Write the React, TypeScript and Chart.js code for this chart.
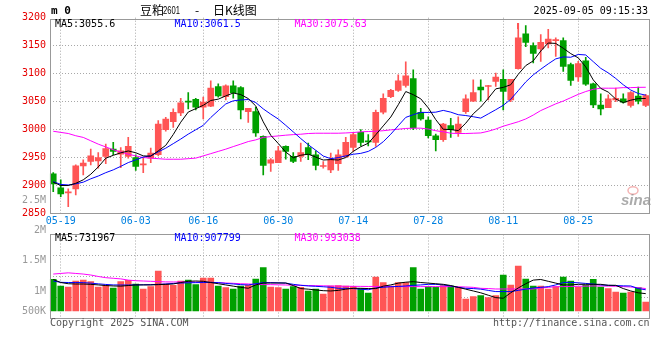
import React, { useEffect, useRef } from "react";
import { Chart, registerables } from "chart.js";

Chart.register(...registerables);

// ---------- data ----------
const dates = ["05-16","05-19","05-20","05-21","05-22","05-23","05-26","05-27","05-28","05-29","05-30","06-03","06-04","06-05","06-06","06-09","06-10","06-11","06-12","06-13","06-16","06-17","06-18","06-19","06-20","06-23","06-24","06-25","06-26","06-27","06-30","07-01","07-02","07-03","07-04","07-07","07-08","07-09","07-10","07-11","07-14","07-15","07-16","07-17","07-18","07-21","07-22","07-23","07-24","07-25","07-28","07-29","07-30","07-31","08-01","08-04","08-05","08-06","08-07","08-08","08-11","08-12","08-13","08-14","08-15","08-18","08-19","08-20","08-21","08-22","08-25","08-26","08-27","08-28","08-29","09-01","09-02","09-03","09-04","09-05"];

const shownDates = ["05-19","06-03","06-16","06-30","07-14","07-28","08-11","08-25"];

const opens = [2921,2896,2887,2894,2935,2943,2944,2952,2965,2956, 2952,2950,2937,2949,2955,3000,3014,3030,3050,3054, 3040,3042,3077,3059,3078,3075,3032,3032,2988,2940, 2941,2970,2952,2952,2968,2955,2934,2928,2939,2951, 2968,2995,2979,2977,3031,3059,3070,3079,3091,3031, 3017,2989,2982,3007,2995,3032,3051,3076,3077,3086, 3090,3053,3109,3171,3150,3144,3153,3159,3159,3116, 3094,3123,3082,3044,3039,3053,3055,3043,3060,3043];
const highs = [2923,2910,2894,2937,2946,2965,2959,2974,2977,2968, 2986,2955,2949,2967,3016,3022,3037,3056,3066,3056, 3058,3087,3082,3080,3087,3077,3038,3040,2989,2948, 2970,2971,2959,2976,2976,2962,2943,2958,2964,2986, 2995,3000,2991,3035,3064,3072,3098,3121,3107,3038, 3023,2992,3011,3020,3023,3062,3089,3089,3079,3101, 3107,3090,3190,3186,3155,3170,3179,3164,3164,3119, 3122,3129,3083,3064,3062,3074,3064,3068,3076,3063];
const lows = [2889,2880,2862,2883,2919,2937,2931,2939,2955,2932, 2949,2927,2923,2941,2953,2997,3004,3025,3037,3035, 3019,3041,3058,3053,3056,3019,3013,2988,2919,2925, 2941,2947,2941,2943,2946,2928,2931,2923,2927,2951, 2961,2971,2971,2970,3028,3057,3068,3076,3000,3017, 2985,2962,2979,2986,2988,3029,3050,3051,3053,3077, 3035,3050,3108,3148,3119,3122,3146,3131,3104,3079, 3086,3079,3039,3026,3039,3050,3047,3040,3046,3041];
const closes = [2903,2885,2888,2935,2940,2953,2950,2966,2961,2962, 2970,2934,2938,2958,3010,3019,3031,3048,3049,3040, 3049,3074,3060,3078,3066,3035,3038,2994,2936,2946, 2962,2961,2943,2959,2955,2936,2935,2947,2955,2977, 2991,2977,2978,3031,3056,3070,3087,3096,3003,3019, 2989,2982,3010,3000,3010,3055,3066,3071,3078,3094, 3068,3090,3164,3156,3136,3156,3162,3160,3113,3088, 3118,3081,3044,3037,3055,3056,3049,3066,3051,3061];

const ma5 = [2906,2900,2900,2904,2910.2,2920.2,2933.2,2948.8,2954,2958.4, 2961.8,2958.6,2953,2952.4,2962,2971.8,2991.2,3013.2,3031.4,3037.4, 3043.4,3052,3054.4,3060.2,3065.4,3062.6,3055.4,3042.2,3013.8,2989.8, 2975.2,2959.8,2949.6,2954.2,2956,2950.8,2945.6,2946.4,2945.6,2950, 2961,2969.4,2975.6,2990.8,3006.6,3022.4,3044.4,3068,3062.4,3055, 3038.8,3017.8,3000.6,3000,2998.2,3011.4,3028.2,3040.4,3056,3072.8, 3075.4,3080.2,3098.8,3114.4,3122.8,3140.4,3154.8,3154,3145.4,3135.8, 3128.2,3112,3088.8,3073.6,3067,3054.6,3048.2,3052.6,3055.4,3055.6];
const ma10 = [2907,2902,2901,2903,2906,2912,2917,2923,2928,2934.3, 2941,2945.9,2950.9,2953.2,2960.2,2966.8,2974.9,2983.1,2991.9,2999.7, 3007.6,3021.6,3033.8,3045.8,3051.4,3053,3053.7,3048.3,3037,3027.6, 3018.9,3007.6,2995.9,2984,2972.9,2963,2952.7,2948,2949.9,2953, 2955.9,2957.5,2961,2968.2,2978.3,2991.7,3006.9,3021.8,3026.6,3030.8, 3030.6,3031.1,3034.3,3031.2,3026.6,3025.1,3023,3020.5,3028,3035.5, 3043.4,3054.2,3069.6,3085.2,3097.8,3107.9,3117.5,3126.4,3129.9,3129.3, 3134.3,3133.4,3121.4,3109.5,3101.4,3091.4,3080.1,3070.7,3064.5,3061.5];
const ma30 = [2997,2995,2993,2989,2986,2980,2974,2969,2964,2960, 2956,2953,2950,2949,2948,2947,2947,2947,2948,2949, 2953,2957,2961,2965,2969.6,2974,2978.6,2981.6,2986,2987.5, 2988.7,2990,2991,2991.7,2993,2993.5,2993.5,2993.5,2993.5,2994, 2994.7,2996,2996.5,2997,2998,2999.5,3000.7,3002,3002.5,3002.5, 3001,2998,2996,2993.5,2993,2993,2993.5,2994,2997,3001, 3006,3010,3014,3019,3026,3034,3040,3046,3051,3057, 3063,3068,3072,3074,3074,3074,3075,3075,3075.5,3075.63];

// volumes in millions of lots
const volumesM = [1.193,1.083,1.066,1.165,1.182,1.154,1.066,1.088,1.050,1.154, 1.176,1.116,1.033,1.072,1.331,1.116,1.094,1.165,1.182,1.105, 1.215,1.215,1.083,1.055,1.033,1.083,1.099,1.198,1.386,1.066, 1.055,1.033,1.072,1.061,1.000,1.033,0.950,1.083,1.088,1.083, 1.077,1.039,0.967,1.231,1.138,1.083,1.138,1.138,1.386,1.033, 1.072,1.061,1.088,1.083,1.061,0.868,0.906,0.922,0.889,0.922, 1.264,1.099,1.413,1.198,1.083,1.083,1.033,1.072,1.231,1.165, 1.066,1.094,1.193,1.066,1.039,0.983,0.967,0.983,1.055,0.818];
const volMa5M = [1.19,1.14,1.12,1.115,1.115,1.11,1.10,1.09,1.083,1.08, 1.09,1.10,1.10,1.10,1.105,1.11,1.116,1.14,1.16,1.165, 1.16,1.14,1.12,1.10,1.08,1.06,1.045,1.10,1.132,1.132, 1.132,1.132,1.09,1.04,1.03,1.017,1.005,1.0,1.01,1.03, 1.044,1.044,1.04,1.04,1.08,1.10,1.13,1.145,1.154,1.14, 1.13,1.12,1.11,1.09,1.06,1.03,1.0,0.97,0.93,0.89, 0.88,0.97,1.05,1.12,1.18,1.19,1.16,1.13,1.10,1.10, 1.11,1.11,1.11,1.11,1.094,1.094,1.04,1.0,0.97,0.956];
const volMa10M = [1.165,1.143,1.14,1.14,1.138,1.13,1.118,1.108,1.10,1.099, 1.099,1.10,1.103,1.105,1.11,1.116,1.125,1.132,1.135,1.138, 1.14,1.143,1.138,1.125,1.116,1.105,1.099,1.12,1.138,1.138, 1.135,1.13,1.11,1.094,1.083,1.077,1.07,1.061,1.044,1.044, 1.04,1.03,1.02,1.05,1.061,1.07,1.075,1.083,1.094,1.10, 1.11,1.11,1.10,1.083,1.06,1.044,1.04,1.03,1.01,0.99, 0.99,0.99,1.01,1.03,1.05,1.06,1.072,1.10,1.14,1.143, 1.135,1.125,1.115,1.10,1.094,1.09,1.085,1.083,1.04,1.02];
const volMa30M = [1.28,1.29,1.30,1.29,1.28,1.264,1.24,1.22,1.21,1.20, 1.18,1.17,1.165,1.16,1.155,1.15,1.149,1.149,1.149,1.147, 1.145,1.14,1.138,1.132,1.127,1.12,1.116,1.11,1.105,1.105, 1.102,1.099,1.096,1.094,1.09,1.088,1.085,1.083,1.08,1.078, 1.077,1.076,1.075,1.075,1.075,1.074,1.073,1.072,1.072,1.072, 1.072,1.072,1.072,1.072,1.07,1.066,1.06,1.044,1.04,1.033, 1.033,1.033,1.033,1.033,1.033,1.05,1.06,1.07,1.072,1.075, 1.078,1.08,1.083,1.083,1.08,1.078,1.072,1.066,1.055,1.04];

const priceMin = 2850;
const priceMax = 3200;
const priceStep = 50;
const volAxisMin = 545000;
const volAxisMax = 1934000;
const volBase = 670000;
const volTickValues = [2000000, 1500000, 1000000, 500000];
const volTickLabels = ["2M", "1.5M", "1M", "500K"];

const maNames = ["MA5", "MA10", "MA30"];
const priceMaLabels = ["3055.6", "3061.5", "3075.63"];
const volMaLabels = ["731967", "907799", "993038"];
const titleName = "豆粕";
const titleCode = "2601";
const titleKind = "日K线图";
const headerMark = "m 0";
const timestamp = "2025-09-05 09:15:33";
const extraAxisLabel = "2.5M";
const copyrightText = "Copyright 2025 SINA.COM";
const urlText = "http://finance.sina.com.cn";

// ---------- styles ----------
const MONO = "'DejaVu Sans Mono', monospace";
const CJK = "'Noto Sans CJK SC', sans-serif";
const UP = "#FF5555";
const DOWN = "#00A000";
const GRID = "#A8A8A8";
const BORDER = "#999999";
const MA_COLORS = ["#000000", "#0000FF", "#FF00FF"];
const CLEAR = "rgba(0,0,0,0)";
const MA_X = [55, 174.5, 294.5];

export default function App() {
  const mainRef = useRef<HTMLCanvasElement>(null);
  const volRef = useRef<HTMLCanvasElement>(null);

  useEffect(() => {
    const colors = opens.map((o, i) => (closes[i] >= o ? UP : DOWN));
    const bodies = opens.map((o, i) => [o, closes[i]]);
    const wicks = lows.map((l, i) => [l, highs[i]]);
    const xGridColor = (c: any) => (shownDates.includes(dates[c.index]) ? GRID : CLEAR);

    const lineDs = (data: number[], color: string) => ({
      type: "line" as const,
      data,
      borderColor: color,
      borderWidth: 1,
      pointRadius: 0,
      fill: false,
      tension: 0,
      order: 0,
    });

    const mainPlugin = {
      id: "mainDecor",
      afterDraw(chart: any) {
        const ctx = chart.ctx as CanvasRenderingContext2D;
        ctx.save();
        ctx.strokeStyle = BORDER;
        ctx.lineWidth = 1;
        ctx.strokeRect(50.5, 19.5, 599, 194);

        ctx.textBaseline = "middle";
        ctx.textAlign = "left";
        ctx.fillStyle = "#000";
        ctx.font = `bold 11px ${MONO}`;
        ctx.fillText(headerMark, 51, 11);

        ctx.font = `12px ${CJK}`;
        ctx.fillText(titleName, 140, 10);
        ctx.font = "11px 'Liberation Sans', sans-serif";
        ctx.fillText(titleCode, 163, 10.5, 17);
        ctx.font = `12px ${CJK}`;
        ctx.fillText("-", 195, 10);
        ctx.fillText(titleKind, 213, 10);

        ctx.font = `10px ${MONO}`;
        ctx.textAlign = "right";
        ctx.fillText(timestamp, 648, 11.5);

        ctx.textAlign = "left";
        maNames.forEach((n, k) => {
          ctx.fillStyle = MA_COLORS[k];
          ctx.fillText(`${n}:${priceMaLabels[k]}`, MA_X[k], 24);
        });

        ctx.fillStyle = "#999";
        ctx.textAlign = "right";
        ctx.fillText(extraAxisLabel, 46, 200.5);

        ctx.fillStyle = UP;
        ctx.fillRect(517, 23, 1, 6);
        ctx.fillStyle = DOWN;
        ctx.fillRect(525, 26, 1, 3);

        // watermark
        ctx.strokeStyle = "rgba(235,120,120,0.55)";
        ctx.lineWidth = 1.5;
        ctx.beginPath();
        ctx.ellipse(633, 190.5, 5, 3.8, 0, 0, Math.PI * 2);
        ctx.stroke();
        ctx.fillStyle = "rgba(150,150,150,0.8)";
        ctx.font = "italic bold 15px 'Liberation Sans', sans-serif";
        ctx.textAlign = "right";
        ctx.textBaseline = "alphabetic";
        ctx.fillText("sina", 651, 205);
        ctx.restore();
      },
    };

    const volPlugin = {
      id: "volDecor",
      afterDraw(chart: any) {
        const ctx = chart.ctx as CanvasRenderingContext2D;
        const ys = chart.scales.y;
        ctx.save();
        ctx.strokeStyle = BORDER;
        ctx.lineWidth = 1;
        ctx.strokeRect(50.5, 10.5, 599, 84);

        ctx.font = `10px ${MONO}`;
        ctx.textBaseline = "middle";
        ctx.textAlign = "right";
        ctx.fillStyle = "#999";
        const basePx = ys.getPixelForValue(volBase);
        volTickValues.forEach((v, k) => {
          const y = Math.min(ys.getPixelForValue(v), basePx);
          ctx.fillText(volTickLabels[k], 46, y);
        });

        ctx.textAlign = "left";
        maNames.forEach((n, k) => {
          ctx.fillStyle = MA_COLORS[k];
          ctx.fillText(`${n}:${volMaLabels[k]}`, MA_X[k], 14);
        });

        ctx.fillStyle = "#555";
        ctx.fillText(copyrightText, 50, 99.5);
        ctx.textAlign = "right";
        ctx.fillText(urlText, 649.5, 99.5);
        ctx.restore();
      },
    };

    const main = new Chart(mainRef.current as HTMLCanvasElement, {
      type: "bar",
      data: {
        labels: dates,
        datasets: [
          lineDs(ma5, MA_COLORS[0]),
          lineDs(ma10, MA_COLORS[1]),
          lineDs(ma30, MA_COLORS[2]),
          {
            type: "bar",
            data: bodies as any,
            backgroundColor: colors,
            barThickness: 6,
            minBarLength: 1,
            grouped: false,
            order: 1,
          } as any,
          {
            type: "bar",
            data: wicks as any,
            backgroundColor: colors,
            barThickness: 1,
            grouped: false,
            order: 2,
          } as any,
        ],
      },
      options: {
        responsive: false,
        animation: false,
        devicePixelRatio: 1,
        events: [],
        layout: { padding: { top: 17.7, right: 10.5, bottom: 0, left: 0 } },
        plugins: { legend: { display: false }, tooltip: { enabled: false } },
        scales: {
          x: {
            type: "category",
            offset: true,
            grid: { offset: false, drawTicks: false, color: xGridColor, lineWidth: 1 },
            border: { display: false, dash: [1, 2] },
            ticks: {
              autoSkip: false,
              maxRotation: 0,
              minRotation: 0,
              padding: 2,
              color: "#0080E0",
              font: { family: MONO, size: 10 },
              callback: (_v: any, idx: number) => (shownDates.includes(dates[idx]) ? dates[idx] : ""),
            },
            afterFit: (s: any) => {
              s.height = 16.5;
            },
          },
          y: {
            min: priceMin,
            max: priceMax,
            grid: {
              drawTicks: false,
              color: (c: any) =>
                c.tick && (c.tick.value === priceMax || c.tick.value === priceMin) ? CLEAR : GRID,
            },
            border: { display: false, dash: [1, 2] },
            ticks: {
              stepSize: priceStep,
              padding: 3.5,
              color: "#E60000",
              font: { family: MONO, size: 10 },
              callback: (v: any) => String(v),
            },
            afterFit: (s: any) => {
              s.width = 49.5;
            },
          },
        },
      } as any,
      plugins: [mainPlugin],
    });

    const vol = new Chart(volRef.current as HTMLCanvasElement, {
      type: "bar",
      data: {
        labels: dates,
        datasets: [
          lineDs(volMa5M.map((v) => v * 1e6), MA_COLORS[0]),
          lineDs(volMa10M.map((v) => v * 1e6), MA_COLORS[1]),
          lineDs(volMa30M.map((v) => v * 1e6), MA_COLORS[2]),
          {
            type: "bar",
            data: volumesM.map((v) => [volBase, v * 1e6]) as any,
            backgroundColor: colors,
            barThickness: 6,
            grouped: false,
            order: 1,
          } as any,
        ],
      },
      options: {
        responsive: false,
        animation: false,
        devicePixelRatio: 1,
        events: [],
        layout: { padding: { top: 10.5, right: 10.5, bottom: 41.5, left: 49.5 } },
        plugins: { legend: { display: false }, tooltip: { enabled: false } },
        scales: {
          x: {
            type: "category",
            offset: true,
            grid: { offset: false, drawTicks: false, color: xGridColor, lineWidth: 1 },
            border: { display: false, dash: [1, 2] },
            ticks: { display: false, autoSkip: false },
            afterFit: (s: any) => {
              s.height = 0;
            },
          },
          y: {
            min: volAxisMin,
            max: volAxisMax,
            grid: { drawTicks: false, color: GRID },
            border: { display: false, dash: [1, 2] },
            ticks: { display: false, count: 5 },
            afterFit: (s: any) => {
              s.width = 0;
            },
          },
        },
      } as any,
      plugins: [volPlugin],
    });

    return () => {
      main.destroy();
      vol.destroy();
    };
  }, []);

  return (
    <div
      style={{
        position: "fixed",
        left: 0,
        top: 0,
        width: 660,
        height: 360,
        background: "#fff",
        overflow: "hidden",
      }}
    >
      <canvas ref={mainRef} width={660} height={230} style={{ position: "absolute", left: 0, top: 0 }} />
      <canvas ref={volRef} width={660} height={136} style={{ position: "absolute", left: 0, top: 224 }} />
    </div>
  );
}
